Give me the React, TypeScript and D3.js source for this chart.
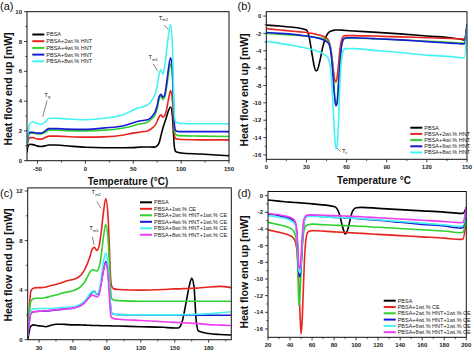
import React from 'react';
import * as d3 from 'd3';

const W = 474;
const H = 353;
const FONT = 'Arial, "Liberation Sans", sans-serif';

// series colours, legend order
const seriesColors = ['#000000', '#e8241f', '#2fd02f', '#1a1ad6', '#45f2f2', '#ee3dee'];

const namesHNT = ['PBSA', 'PBSA+2wt.% HNT', 'PBSA+4wt.% HNT', 'PBSA+6wt.% HNT', 'PBSA+8wt.% HNT'];
const namesCE = [
  'PBSA',
  'PBSA+1wt.% CE',
  'PBSA+2wt.% HNT+1wt.% CE',
  'PBSA+4wt.% HNT+1wt.% CE',
  'PBSA+6wt.% HNT+1wt.% CE',
  'PBSA+8wt.% HNT+1wt.% CE',
];

// ---- (a) heating, PBSA / HNT ----
const tempA = [-61, -60, -58, -55, -50, -46, -42, -38, -30, -20, 0, 20, 40, 50, 55, 60, 65, 70, 73, 75, 77, 79, 81, 83, 85, 87, 89, 91, 92, 93, 94, 96, 100, 120, 150];
const aPBSA = [0.55, 0.95, 1.1, 1.08, 0.98, 0.95, 1.0, 1.05, 1.05, 1.0, 0.9, 0.87, 0.87, 0.88, 0.9, 0.92, 0.92, 0.91, 0.93, 1.0, 1.2, 1.7, 2.2, 2.6, 3.0, 3.4, 3.6, 2.9, 1.8, 0.9, 0.65, 0.56, 0.52, 0.45, 0.33];
const aHNT2 = [0.9, 1.3, 1.55, 1.55, 1.45, 1.45, 1.55, 1.65, 1.65, 1.62, 1.58, 1.6, 1.72, 1.85, 1.9, 1.95, 2.0, 2.2, 2.4, 2.65, 2.95, 3.08, 2.92, 3.05, 3.5, 4.2, 4.7, 4.0, 2.6, 1.7, 1.5, 1.45, 1.42, 1.4, 1.4];
const aHNT4 = [1.0, 1.5, 1.85, 1.85, 1.8, 1.8, 1.9, 2.05, 2.05, 2.02, 2.0, 2.05, 2.2, 2.35, 2.45, 2.5, 2.6, 2.85, 3.1, 3.5, 4.1, 4.35, 4.1, 4.3, 5.0, 5.9, 6.5, 5.5, 3.5, 2.1, 1.8, 1.7, 1.68, 1.65, 1.62];
const aHNT6 = [1.0, 1.6, 1.9, 1.9, 1.85, 1.85, 2.0, 2.15, 2.15, 2.12, 2.1, 2.2, 2.35, 2.55, 2.65, 2.7, 2.75, 3.0, 3.3, 3.7, 4.3, 4.45, 4.25, 4.45, 5.3, 6.3, 6.9, 6.0, 4.0, 2.4, 2.05, 1.97, 1.95, 1.95, 1.95];
const aHNT8 = [1.1, 1.8, 2.5, 2.6, 2.5, 2.45, 2.6, 2.85, 2.85, 2.8, 2.75, 2.85, 3.1, 3.4, 3.55, 3.6, 3.75, 4.1, 4.5, 5.0, 5.8, 6.1, 5.8, 6.4, 7.5, 8.5, 9.15, 7.5, 5.0, 3.0, 2.65, 2.55, 2.5, 2.48, 2.48];

// ---- (b) cooling, PBSA / HNT ----
const tempB = [0, 10, 20, 25, 30, 32, 34, 36, 37, 38, 40, 42, 44, 46, 47, 48, 49, 50, 51, 52, 53, 54, 55, 56, 57, 58, 60, 65, 80, 100, 120, 140, 146, 148, 150];
const bPBSA = [-1.05, -1.15, -1.3, -1.4, -1.6, -2.4, -4.2, -5.9, -6.3, -6.25, -5.2, -3.7, -2.6, -2.0, -1.85, -1.75, -1.7, -1.65, -1.62, -1.6, -1.6, -1.6, -1.6, -1.62, -1.63, -1.65, -1.67, -1.72, -1.85, -2.05, -2.3, -2.55, -2.7, -2.75, -1.0];
const bHNT2 = [-1.45, -1.6, -1.75, -1.82, -1.9, -1.95, -2.0, -2.05, -2.1, -2.12, -2.2, -2.3, -2.45, -2.7, -3.0, -3.6, -4.6, -6.0, -7.2, -7.6, -7.0, -5.5, -3.9, -2.9, -2.45, -2.3, -2.25, -2.25, -2.3, -2.4, -2.5, -2.6, -2.65, -2.65, -1.2];
const bHNT4 = [-2.0, -2.1, -2.2, -2.25, -2.3, -2.35, -2.38, -2.42, -2.45, -2.47, -2.5, -2.6, -2.7, -2.9, -3.1, -3.6, -4.8, -6.8, -9.0, -10.1, -9.6, -7.5, -5.2, -3.6, -2.9, -2.65, -2.55, -2.55, -2.6, -2.75, -2.9, -3.05, -3.1, -3.1, -1.2];
const bHNT6 = [-1.9, -2.0, -2.1, -2.2, -2.3, -2.35, -2.4, -2.45, -2.5, -2.52, -2.6, -2.7, -2.85, -3.05, -3.3, -3.9, -5.2, -7.2, -9.3, -10.35, -10.0, -8.0, -5.5, -3.7, -2.9, -2.6, -2.5, -2.5, -2.6, -2.75, -2.95, -3.15, -3.2, -3.2, -1.0];
const bHNT8 = [-2.9, -3.15, -3.4, -3.55, -3.7, -3.75, -3.85, -3.95, -4.0, -4.05, -4.15, -4.3, -4.5, -4.8, -5.2, -6.0, -7.8, -10.5, -13.5, -15.3, -14.8, -12.0, -8.0, -5.3, -4.2, -3.85, -3.75, -3.75, -3.95, -4.2, -4.5, -4.7, -4.8, -4.8, -1.2];

// ---- (c) heating, PBSA / HNT + CE ----
const tempC = [20, 21, 22, 23, 25, 28, 32, 36, 40, 45, 50, 55, 60, 65, 70, 73, 75, 77, 79, 81, 83, 85, 87, 89, 91, 92, 93, 94, 96, 100, 120, 140, 150, 153, 155, 157, 159, 161, 163, 165, 167, 169, 171, 180, 190, 200];
const cPBSA = [0.0, 0.5, 0.95, 1.1, 1.2, 1.15, 1.1, 1.05, 1.15, 1.25, 1.25, 1.22, 1.2, 1.2, 1.18, 1.17, 1.16, 1.15, 1.15, 1.14, 1.14, 1.13, 1.13, 1.12, 1.12, 1.12, 1.12, 1.11, 1.11, 1.1, 1.05, 1.0, 0.95, 0.95, 1.1, 1.6, 2.5, 3.5, 4.4, 4.95, 4.3, 1.5, 0.7, 0.5, 0.42, 0.38];
const cCE1 = [0.3, 1.6, 3.3, 3.95, 4.15, 4.2, 4.2, 4.25, 4.35, 4.45, 4.6, 4.75, 4.85, 5.05, 5.6, 6.2, 6.7, 7.3, 7.45, 7.2, 7.5, 8.7, 10.3, 11.4, 10.0, 8.0, 5.5, 4.4, 4.1, 4.05, 4.0, 4.05, 4.1, 4.1, 4.1, 4.12, 4.12, 4.13, 4.14, 4.15, 4.15, 4.16, 4.17, 4.25, 4.3, 4.2];
const cHNT2 = [0.3, 1.4, 2.7, 3.15, 3.3, 3.35, 3.35, 3.4, 3.5, 3.6, 3.75, 3.85, 3.95, 4.15, 4.6, 5.1, 5.45, 5.65, 5.6, 5.55, 5.8, 6.8, 8.3, 9.3, 8.2, 6.5, 4.5, 3.4, 3.2, 3.15, 3.1, 3.1, 3.1, 3.1, 3.1, 3.1, 3.1, 3.1, 3.1, 3.1, 3.1, 3.1, 3.1, 3.1, 3.1, 3.1];
const cHNT4 = [0.3, 1.1, 1.85, 2.15, 2.25, 2.28, 2.3, 2.32, 2.35, 2.4, 2.45, 2.5, 2.55, 2.7, 3.0, 3.35, 3.6, 3.85, 3.9, 3.65, 3.8, 4.6, 5.6, 6.3, 5.5, 4.3, 3.0, 2.2, 2.05, 2.02, 2.0, 2.0, 2.0, 2.0, 2.0, 2.0, 2.0, 1.99, 1.99, 1.99, 1.99, 1.99, 1.98, 1.98, 1.97, 1.97];
const cHNT6 = [0.3, 1.2, 2.0, 2.35, 2.5, 2.52, 2.52, 2.52, 2.52, 2.55, 2.6, 2.62, 2.65, 2.8, 3.1, 3.45, 3.7, 3.9, 3.85, 3.7, 3.95, 5.0, 6.3, 7.0, 6.0, 4.5, 3.0, 2.2, 2.05, 2.02, 2.0, 2.0, 2.0, 2.01, 2.01, 2.02, 2.02, 2.03, 2.03, 2.04, 2.04, 2.05, 2.05, 2.1, 2.17, 2.25];
const cHNT8 = [0.3, 1.1, 1.85, 2.1, 2.25, 2.28, 2.3, 2.33, 2.37, 2.42, 2.47, 2.5, 2.55, 2.65, 2.95, 3.25, 3.45, 3.6, 3.55, 3.45, 3.6, 4.5, 5.6, 6.2, 5.2, 3.8, 2.3, 1.8, 1.7, 1.65, 1.55, 1.45, 1.4, 1.39, 1.38, 1.37, 1.36, 1.35, 1.34, 1.33, 1.32, 1.31, 1.3, 1.22, 1.18, 1.15];

// ---- (d) cooling, PBSA / HNT + CE ----
const tempD = [20, 30, 40, 43, 45, 46, 47, 48, 49, 50, 51, 52, 53, 54, 55, 56, 58, 60, 65, 80, 83, 85, 87, 89, 90, 91, 93, 95, 97, 100, 105, 120, 140, 160, 180, 195, 197, 200];
const dPBSA = [-0.52, -0.65, -0.78, -0.8, -0.82, -0.83, -0.84, -0.85, -0.86, -0.87, -0.88, -0.89, -0.9, -0.91, -0.92, -0.93, -0.95, -0.98, -1.05, -1.3, -1.65, -2.3, -3.4, -4.3, -4.6, -4.5, -3.8, -2.6, -1.8, -1.45, -1.4, -1.52, -1.68, -1.82, -1.97, -2.12, -2.12, -1.4];
const dCE1 = [-4.1, -4.4, -4.8, -5.1, -5.6, -6.3, -7.8, -10.5, -14.0, -16.6, -15.0, -11.5, -8.0, -5.8, -4.8, -4.4, -4.25, -4.2, -4.22, -4.35, -4.37, -4.38, -4.4, -4.41, -4.42, -4.42, -4.44, -4.45, -4.47, -4.5, -4.53, -4.65, -4.8, -4.95, -5.1, -5.25, -5.2, -2.8];
const dHNT2 = [-3.2, -3.5, -3.9, -4.2, -4.8, -5.8, -8.5, -13.2, -12.0, -9.0, -6.5, -4.8, -4.0, -3.7, -3.55, -3.5, -3.45, -3.42, -3.45, -3.55, -3.56, -3.57, -3.58, -3.59, -3.6, -3.6, -3.61, -3.62, -3.63, -3.65, -3.68, -3.8, -3.95, -4.1, -4.25, -4.45, -4.4, -2.3];
const dHNT4 = [-2.2, -2.4, -2.75, -3.0, -3.5, -4.3, -6.5, -9.3, -9.75, -8.5, -6.0, -4.0, -3.0, -2.65, -2.5, -2.45, -2.42, -2.4, -2.45, -2.6, -2.62, -2.63, -2.64, -2.66, -2.67, -2.67, -2.69, -2.7, -2.72, -2.75, -2.8, -2.95, -3.2, -3.45, -3.65, -3.9, -3.8, -1.5];
const dHNT6 = [-2.4, -2.6, -2.95, -3.2, -3.7, -4.5, -6.5, -9.0, -9.3, -8.2, -5.8, -3.9, -3.0, -2.65, -2.55, -2.5, -2.48, -2.47, -2.5, -2.6, -2.61, -2.62, -2.63, -2.64, -2.65, -2.65, -2.67, -2.68, -2.7, -2.72, -2.76, -2.9, -3.1, -3.3, -3.5, -3.7, -3.6, -1.5];
const dHNT8 = [-2.15, -2.3, -2.6, -2.8, -3.2, -4.0, -6.0, -8.5, -8.8, -7.5, -5.0, -3.3, -2.7, -2.45, -2.35, -2.32, -2.3, -2.3, -2.32, -2.4, -2.41, -2.42, -2.43, -2.44, -2.44, -2.45, -2.46, -2.47, -2.48, -2.5, -2.53, -2.65, -2.8, -2.95, -3.1, -3.25, -3.2, -1.3];

// axis ticks
const aXTicks = [-50, 0, 50, 100, 150];
const aXMinor = [-25, 25, 75, 125];
const aYTicks = [0, 2, 4, 6, 8, 10];
const aYMinor = [1, 3, 5, 7, 9];
const bXTicks = [0, 30, 60, 90, 120, 150];
const bXMinor = [15, 45, 75, 105, 135];
const bYTicks = [0, -2, -4, -6, -8, -10, -12, -14, -16];
const bYMinor = [-1, -3, -5, -7, -9, -11, -13, -15];
const cXTicks = [30, 60, 90, 120, 150, 180];
const cXMinor = [45, 75, 105, 135, 165, 195];
const cYTicks = [0, 4, 8, 12];
const cYMinor = [2, 6, 10];
const dXTicks = [20, 40, 60, 80, 100, 120, 140, 160, 180, 200];
const dXMinor = [30, 50, 70, 90, 110, 130, 150, 170, 190];
const dYTicks = [0, -2, -4, -6, -8, -10, -12, -14, -16];
const dYMinor = [-1, -3, -5, -7, -9, -11, -13, -15];

type Note = { main: string; sub: string; tx: number; ty: number; x1: number; y1: number; x2: number; y2: number };

type PanelDef = {
  id: string;
  tag: string;
  tagX: number;
  tagY: number;
  box: [number, number, number, number]; // left, right, top, bottom
  xDomain: [number, number];
  yDomain: [number, number];
  xTicks: number[];
  xMinor: number[];
  yTicks: number[];
  yMinor: number[];
  temps: number[];
  series: number[][];
  names: string[];
  legend: [number, number, number]; // x, first row y, row step
  yTitle: [number, number];
  xTitle?: [string, number, number];
  notes: Note[];
};

const panels: PanelDef[] = [
  {
    id: 'a', tag: '(a)', tagX: 0, tagY: 10,
    box: [27, 229, 11.7, 160.7], xDomain: [-61, 150], yDomain: [0, 10],
    xTicks: aXTicks, xMinor: aXMinor, yTicks: aYTicks, yMinor: aYMinor,
    temps: tempA, series: [aPBSA, aHNT2, aHNT4, aHNT6, aHNT8], names: namesHNT,
    legend: [32.3, 34.5, 6.7], yTitle: [8, 89], xTitle: ['Temperature (°C)', 128, 184.5],
    notes: [
      { main: 'T', sub: 'g', tx: -43, ty: 4.3, x1: -40, y1: 4.05, x2: -44.5, y2: 2.95 },
      { main: 'T', sub: 'm1', tx: 66, ty: 6.8, x1: 71, y1: 6.5, x2: 75.5, y2: 6.0 },
      { main: 'T', sub: 'm2', tx: 76.5, ty: 9.45, x1: 82.5, y1: 9.1, x2: 86.5, y2: 8.8 },
    ],
  },
  {
    id: 'b', tag: '(b)', tagX: 237.5, tagY: 10,
    box: [266.3, 467, 11.7, 159.3], xDomain: [0, 150], yDomain: [-16.5, 0.5],
    xTicks: bXTicks, xMinor: bXMinor, yTicks: bYTicks, yMinor: bYMinor,
    temps: tempB, series: [bPBSA, bHNT2, bHNT4, bHNT6, bHNT8], names: namesHNT,
    legend: [410.3, 127.7, 6.2], yTitle: [244, 90], xTitle: ['Temperature °C', 374, 184],
    notes: [{ main: 'T', sub: 'c', tx: 56.5, ty: -15.75, x1: 55.5, y1: -15.6, x2: 52.8, y2: -15.2 }],
  },
  {
    id: 'c', tag: '(c)', tagX: 0, tagY: 197,
    box: [27.7, 231.3, 187.9, 339.7], xDomain: [20, 200], yDomain: [0, 12.25],
    xTicks: cXTicks, xMinor: cXMinor, yTicks: cYTicks, yMinor: cYMinor,
    temps: tempC, series: [cPBSA, cCE1, cHNT2, cHNT4, cHNT6, cHNT8], names: namesCE,
    legend: [140, 202.3, 6.5], yTitle: [8, 265],
    notes: [
      { main: 'T', sub: 'm2', tx: 76.5, ty: 11.75, x1: 81, y1: 11.15, x2: 85, y2: 10.6 },
      { main: 'T', sub: 'm1', tx: 74.5, ty: 8.85, x1: 77.2, y1: 8.3, x2: 78.6, y2: 7.65 },
    ],
  },
  {
    id: 'd', tag: '(d)', tagX: 237.5, tagY: 196.5,
    box: [268, 466.3, 191.5, 337.3], xDomain: [20, 200], yDomain: [-17, 0.5],
    xTicks: dXTicks, xMinor: dXMinor, yTicks: dYTicks, yMinor: dYMinor,
    temps: tempD, series: [dPBSA, dCE1, dHNT2, dHNT4, dHNT6, dHNT8], names: namesCE,
    legend: [383.7, 300.7, 6.3], yTitle: [244, 272],
    notes: [],
  },
];

function Panel({ p }: { p: PanelDef }) {
  const [left, right, top, bottom] = p.box;
  const x = d3.scaleLinear().domain(p.xDomain).range([left, right]);
  const y = d3.scaleLinear().domain(p.yDomain).range([bottom, top]);
  const line = d3
    .line<number>()
    .x((_, i) => x(p.temps[i]))
    .y((d) => y(d))
    .curve(d3.curveMonotoneX);
  const clipId = `clip-${p.id}`;
  const [lx, ly, lstep] = p.legend;

  return (
    <g>
      <defs>
        <clipPath id={clipId}>
          <rect x={left} y={top} width={right - left} height={bottom - top} />
        </clipPath>
      </defs>

      <g clipPath={`url(#${clipId})`}>
        {p.series.map((s, i) => (
          <path key={i} d={line(s) || ''} fill="none" stroke={seriesColors[i]} strokeWidth={1.6} strokeLinejoin="round" />
        ))}
      </g>

      <rect x={left} y={top} width={right - left} height={bottom - top} fill="none" stroke="#111" strokeWidth={1} />

      {/* x ticks */}
      {p.xTicks.map((t) => (
        <g key={`xt${t}`}>
          <line x1={x(t)} x2={x(t)} y1={bottom} y2={bottom + 3} stroke="#111" strokeWidth={0.8} />
          <text x={x(t)} y={bottom + 10} fontSize={6} fontWeight="bold" textAnchor="middle" fill="#222">
            {t}
          </text>
        </g>
      ))}
      {p.xMinor.map((t) => (
        <line key={`xm${t}`} x1={x(t)} x2={x(t)} y1={bottom} y2={bottom + 1.8} stroke="#111" strokeWidth={0.7} />
      ))}

      {/* y ticks */}
      {p.yTicks.map((t) => (
        <g key={`yt${t}`}>
          <line x1={left - 3} x2={left} y1={y(t)} y2={y(t)} stroke="#111" strokeWidth={0.8} />
          <text x={left - 5} y={y(t)} dy="0.35em" fontSize={6} fontWeight="bold" textAnchor="end" fill="#222">
            {t}
          </text>
        </g>
      ))}
      {p.yMinor.map((t) => (
        <line key={`ym${t}`} x1={left - 1.8} x2={left} y1={y(t)} y2={y(t)} stroke="#111" strokeWidth={0.7} />
      ))}

      {/* legend */}
      {p.names.map((n, i) => (
        <g key={n}>
          <line x1={lx} x2={lx + 12} y1={ly + i * lstep} y2={ly + i * lstep} stroke={seriesColors[i]} strokeWidth={2} />
          <text x={lx + 14} y={ly + i * lstep} dy="0.35em" fontSize={5.5} fill="#222">
            {n}
          </text>
        </g>
      ))}

      {/* annotations */}
      {p.notes.map((n, i) => (
        <g key={i}>
          <line x1={x(n.x1)} y1={y(n.y1)} x2={x(n.x2)} y2={y(n.y2)} stroke="#333" strokeWidth={0.6} />
          <text x={x(n.tx)} y={y(n.ty)} fontSize={6} fill="#222">
            {n.main}
            <tspan fontSize={4} dy={1.5}>
              {n.sub}
            </tspan>
          </text>
        </g>
      ))}

      {/* titles */}
      <text
        transform={`translate(${p.yTitle[0]},${p.yTitle[1]}) rotate(-90)`}
        dy="0.35em"
        fontSize={10.5}
        fontWeight="bold"
        textAnchor="middle"
        fill="#111"
      >
        Heat flow end up [mW]
      </text>
      {p.xTitle && (
        <text x={p.xTitle[1]} y={p.xTitle[2]} fontSize={10} fontWeight="bold" textAnchor="middle" fill="#111">
          {p.xTitle[0]}
        </text>
      )}
      <text x={p.tagX} y={p.tagY} fontSize={11} fill="#111">
        {p.tag}
      </text>
    </g>
  );
}

export default function App() {
  return (
    <svg
      width={W}
      height={H}
      viewBox={`0 0 ${W} ${H}`}
      style={{ position: 'absolute', left: 0, top: 0, background: '#fff', fontFamily: FONT }}
    >
      {panels.map((p) => (
        <Panel key={p.id} p={p} />
      ))}
    </svg>
  );
}
